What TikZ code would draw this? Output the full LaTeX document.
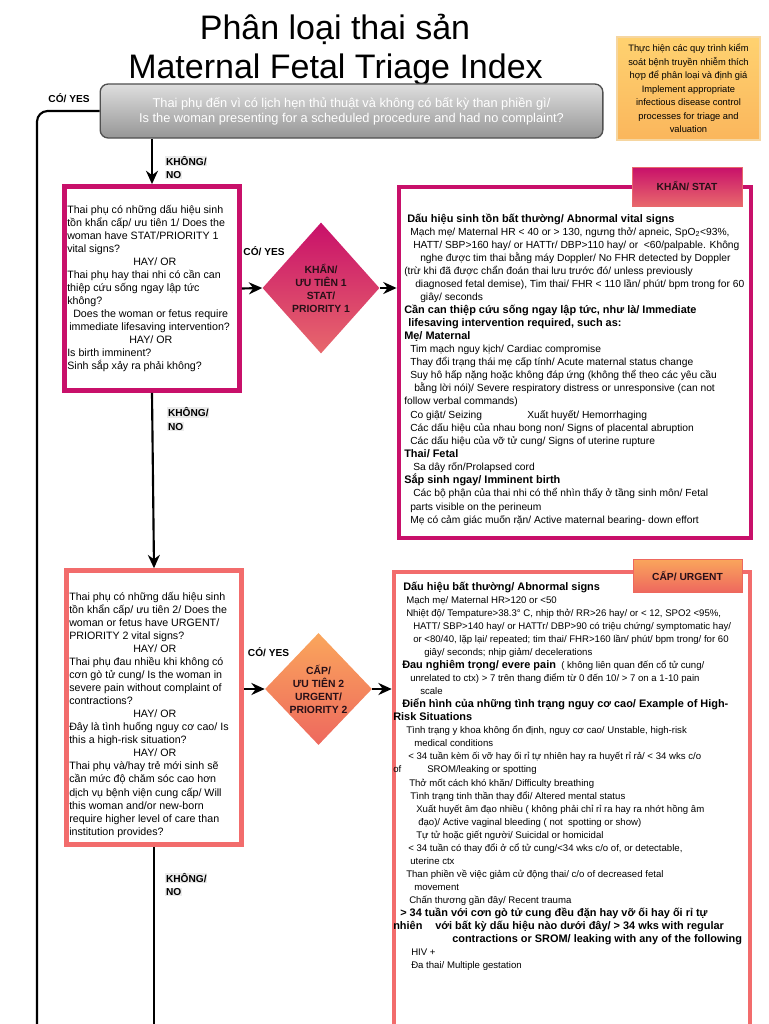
\documentclass[tikz,border=0pt]{standalone}
\usepackage{fontspec}
\setmainfont{Liberation Sans}
\usetikzlibrary{arrows.meta,shapes.geometric}
\definecolor{mag}{RGB}{200,16,106}
\definecolor{magB}{RGB}{232,104,108}
\definecolor{sal}{RGB}{242,108,108}
\definecolor{orT}{RGB}{250,166,92}
\definecolor{orB}{RGB}{238,104,94}
\definecolor{grT}{RGB}{222,222,222}
\definecolor{grB}{RGB}{150,150,150}
\definecolor{grL}{RGB}{80,80,80}
\definecolor{noteT}{RGB}{255,210,112}
\definecolor{noteB}{RGB}{250,182,92}
\definecolor{noteL}{RGB}{246,214,160}
\definecolor{lblbg}{RGB}{236,236,236}
\definecolor{dtxt}{RGB}{40,16,24}
\newcommand\lbl[1]{{\setlength{\fboxsep}{0.6pt}\colorbox{lblbg}{#1}}}
\newcommand\hd[1]{{\fontsize{8.2}{9.8}\selectfont\bfseries #1}}
\newcommand\ind[1]{\hspace*{#1pt}}
\begin{document}
\begin{tikzpicture}[x=0.75pt,y=-0.75pt,
  conn/.style={line width=1.6pt, black},
  arr/.style={conn, -{Stealth[length=10pt,width=9pt]}},
  lab/.style={font=\fontsize{7.6}{9.8}\selectfont\bfseries, inner sep=0, align=left},
  txt/.style={inner sep=0, anchor=base west},
  magbox/.style={draw=mag, line width=3.6pt, inner sep=0, fill=white},
  salbox/.style={draw=sal, line width=3.4pt, inner sep=0, fill=white},
  dia/.style={shape=diamond, inner sep=0, align=center, text=dtxt,
    font=\fontsize{7.8}{9.75}\selectfont\bfseries},
  tab/.style={inner sep=0, text=dtxt, font=\fontsize{7.7}{9.8}\selectfont\bfseries}]
\useasboundingbox (0,0) rectangle (768,1024);

% title
\node[inner sep=0, anchor=base, font=\fontsize{25.5}{28}\selectfont] (title1) at (335,40) {Phân loại thai sản};
\node[inner sep=0, anchor=base, font=\fontsize{25.5}{28}\selectfont] (title2) at (335.5,79) {Maternal Fetal Triage Index};

% note
\node[draw=noteL, line width=0.8pt, top color=noteT, bottom color=noteB, minimum width=107.25pt, minimum height=77.25pt, inner sep=0, align=center, font=\fontsize{7}{10.1}\selectfont] (note) at (688.5,88.5)
{Thực hiện các quy trình kiểm\\soát bệnh truyền nhiễm thích\\hợp để phân loại và định giá\\Implement appropriate\\infectious disease control\\processes for triage and\\valuation};

% top question
\node[draw=grL, line width=1pt, rounded corners=6pt, top color=grT, bottom color=grB, minimum width=377pt, minimum height=40.5pt, inner sep=0, align=center, text=white, font=\fontsize{9.6}{11.25}\selectfont] (tb) at (351.5,111)
{Thai phụ đến vì có lịch hẹn thủ thuật và không có bất kỳ than phiền gì/\\Is the woman presenting for a scheduled procedure and had no complaint?};

% left box 1
\node[magbox, minimum width=131.25pt, minimum height=153pt] (lb1) at (152,288.5) {};
\node[txt, font=\fontsize{8}{9.8}\selectfont] (lb1t) at (67,213) {\begin{tabular}[t]{@{}l@{}}
Thai phụ có những dấu hiệu sinh\\
tồn khẩn cấp/ ưu tiên 1/ Does the\\
woman have STAT/PRIORITY 1\\
vital signs?\\
\ind{49.5}HAY/ OR\\
Thai phụ hay thai nhi có cần can\\
thiệp cứu sống ngay lập tức\\
không?\\
\ind{4.5}Does the woman or fetus require\\
\ind{1.5}immediate lifesaving intervention?\\
\ind{46.5}HAY/ OR\\
Is birth imminent?\\
Sinh sắp xảy ra phải không?
\end{tabular}};

% diamond 1
\node[dia, top color=mag, bottom color=magB, minimum width=87.75pt, minimum height=98.25pt] (d1) at (321,288) {KHẨN/\\ƯU TIÊN 1\\STAT/\\PRIORITY 1};

% right box 1
\node[magbox, minimum width=264pt, minimum height=263.25pt] (rb1) at (575,362.5) {};
\node[tab, top color=mag, bottom color=magB, draw=magB, line width=0.6pt, minimum width=82.5pt, minimum height=29.25pt] (tab1) at (687,186.5) {KHẨN/ STAT};
\node[txt, font=\fontsize{7.7}{9.8}\selectfont] (rb1t) at (404,222) {\begin{tabular}[t]{@{}l@{}}
\ind{2.25}\hd{Dấu hiệu sinh tồn bất thường/ Abnormal vital signs}\\
\ind{4.5}Mạch mẹ/ Maternal HR < 40 or > 130, ngưng thở/ apneic, SpO\textsubscript{2}<93\%,\\
\ind{6.75}HATT/ SBP>160 hay/ or HATTr/ DBP>110 hay/ or \ <60/palpable. Không\\
\ind{12}nghe được tim thai bằng máy Doppler/ No FHR detected by Doppler\\
(trừ khi đã được chẩn đoán thai lưu trước đó/ unless previously\\
\ind{8.25}diagnosed fetal demise), Tim thai/ FHR < 110 lần/ phút/ bpm trong for 60\\
\ind{12}giây/ seconds\\
\hd{Cần can thiệp cứu sống ngay lập tức, như là/ Immediate}\\
\ind{3}\hd{lifesaving intervention required, such as:}\\
\hd{Mẹ/ Maternal}\\
\ind{4.5}Tim mạch nguy kịch/ Cardiac compromise\\
\ind{4.5}Thay đổi trạng thái mẹ cấp tính/ Acute maternal status change\\
\ind{4.5}Suy hô hấp nặng hoặc không đáp ứng (không thể theo các yêu cầu\\
\ind{7.5}bằng lời nói)/ Severe respiratory distress or unresponsive (can not\\
follow verbal commands)\\
\ind{4.5}\makebox[87.75pt][l]{Co giật/ Seizing}Xuất huyết/ Hemorrhaging\\
\ind{4.5}Các dấu hiệu của nhau bong non/ Signs of placental abruption\\
\ind{4.5}Các dấu hiệu của vỡ tử cung/ Signs of uterine rupture\\
\hd{Thai/ Fetal}\\
\ind{6.75}Sa dây rốn/Prolapsed cord\\
\hd{Sắp sinh ngay/ Imminent birth}\\
\ind{6.75}Các bộ phận của thai nhi có thể nhìn thấy ở tầng sinh môn/ Fetal\\
\ind{4.5}parts visible on the perineum\\
\ind{4.5}Mẹ có cảm giác muốn rặn/ Active maternal bearing- down effort
\end{tabular}};

% left box 2
\node[salbox, minimum width=131.25pt, minimum height=205.5pt] (lb2) at (154,707.5) {};
\node[txt, font=\fontsize{8}{9.8}\selectfont] (lb2t) at (69,600) {\begin{tabular}[t]{@{}l@{}}
Thai phụ có những dấu hiệu sinh\\
tồn khẩn cấp/ ưu tiên 2/ Does the\\
woman or fetus have URGENT/\\
PRIORITY 2 vital signs?\\
\ind{48}HAY/ OR\\
Thai phụ đau nhiều khi không có\\
cơn gò tử cung/ Is the woman in\\
severe pain without complaint of\\
contractions?\\
\ind{48}HAY/ OR\\
Đây là tình huống nguy cơ cao/ Is\\
this a high-risk situation?\\
\ind{48}HAY/ OR\\
Thai phụ và/hay trẻ mới sinh sẽ\\
cần mức độ chăm sóc cao hơn\\
dịch vụ bệnh viện cung cấp/ Will\\
this woman and/or new-born\\
require higher level of care than\\
institution provides?
\end{tabular}};

% diamond 2
\node[dia, top color=orT, bottom color=orB, minimum width=80.25pt, minimum height=84pt] (d2) at (318.5,689) {CẤP/\\ƯU TIÊN 2\\URGENT/\\PRIORITY 2};

% right box 2
\node[salbox, minimum width=267pt, minimum height=351pt] (rb2) at (572,806) {};
\node[tab, top color=orT, bottom color=orB, draw=orB, line width=0.6pt, minimum width=81.75pt, minimum height=24.75pt] (tab2) at (687.5,575.5) {CẤP/ URGENT};
\node[txt, font=\fontsize{7.2}{9.8}\selectfont] (rb2t) at (393,590) {\begin{tabular}[t]{@{}l@{}}
\ind{7.5}\hd{Dấu hiệu bất thường/ Abnormal signs}\\
\ind{9.75}Mạch mẹ/ Maternal HR>120 or <50\\
\ind{9.75}Nhiệt độ/ Tempature>38.3° C, nhịp thở/ RR>26 hay/ or < 12, SPO2 <95\%,\\
\ind{15}HATT/ SBP>140 hay/ or HATTr/ DBP>90 có triệu chứng/ symptomatic hay/\\
\ind{15}or <80/40, lặp lại/ repeated; tim thai/ FHR>160 lần/ phút/ bpm trong/ for 60\\
\ind{23.25}giây/ seconds; nhịp giảm/ decelerations\\
\ind{6.75}\hd{Đau nghiêm trọng/ evere pain}\ \ ( không liên quan đến cổ tử cung/\\
\ind{12.75}unrelated to ctx) > 7 trên thang điểm từ 0 đến 10/ > 7 on a 1-10 pain\\
\ind{20.25}scale\\
\ind{6.75}\hd{Điển hình của những tình trạng nguy cơ cao/ Example of High-}\\
\hd{Risk Situations}\\
\ind{9.75}Tình trạng y khoa không ổn định, nguy cơ cao/ Unstable, high-risk\\
\ind{15.75}medical conditions\\
\ind{11.25}< 34 tuần kèm ối vỡ hay ối rỉ tự nhiên hay ra huyết rỉ rả/ < 34 wks c/o\\
\makebox[25.5pt][l]{of}SROM/leaking or spotting\\
\ind{12}Thở mốt cách khó khăn/ Difficulty breathing\\
\ind{12.75}Tình trạng tinh thần thay đổi/ Altered mental status\\
\ind{17.25}Xuất huyết âm đạo nhiều ( không phải chỉ rỉ ra hay ra nhớt hồng âm\\
\ind{18.75}đạo)/ Active vaginal bleeding ( not \ spotting or show)\\
\ind{17.25}Tự tử hoặc giết người/ Suicidal or homicidal\\
\ind{11.25}< 34 tuần có thay đổi ở cổ tử cung/<34 wks c/o of, or detectable,\\
\ind{12.75}uterine ctx\\
\ind{9.75}Than phiền về việc giảm cử động thai/ c/o of decreased fetal\\
\ind{15.75}movement\\
\ind{12}Chấn thương gần đây/ Recent trauma\\
\ind{5.25}\hd{> 34 tuần với cơn gò tử cung đều đặn hay vỡ ối hay ối rỉ tự}\\
\hd{\makebox[31.5pt][l]{nhiên}với bất kỳ dấu hiệu nào dưới đây/ > 34 wks with regular}\\
\ind{44.25}\hd{contractions or SROM/ leaking with any of the following}\\
\ind{13.5}HIV +\\
\ind{13.5}Đa thai/ Multiple gestation
\end{tabular}};

% labels
\node[lab] (yes0) at (69,98) {CÓ/ YES};
\node[lab, anchor=west] (no1) at (165,167.5) {\lbl{KHÔNG/}\\\lbl{NO}};
\node[lab] (yes1) at (264,251) {CÓ/ YES};
\node[lab, anchor=west] (no2) at (167,419) {\lbl{KHÔNG/}\\\lbl{NO}};
\node[lab] (yes2) at (268.5,652) {CÓ/ YES};
\node[lab, anchor=west] (no3) at (165,884.5) {\lbl{KHÔNG/}\\\lbl{NO}};

% connectors
\coordinate (yesend) at (37,1040);
\coordinate (noend) at (154,1040);
\draw[conn, rounded corners=8pt] (tb.west) -| (yesend);
\draw[arr] (lb1.north |- tb.south) -- (lb1.north);
\draw[arr] (lb1.east) -- (d1.west);
\draw[arr] (d1.east) -- (d1.east -| rb1.west);
\draw[arr] (lb1.south) -- (lb2.north);
\draw[arr] (d2.west -| lb2.east) -- (d2.west);
\draw[arr] (d2.east) -- (d2.east -| rb2.west);
\draw[conn] (lb2.south) -- (noend);
\end{tikzpicture}
\end{document}
